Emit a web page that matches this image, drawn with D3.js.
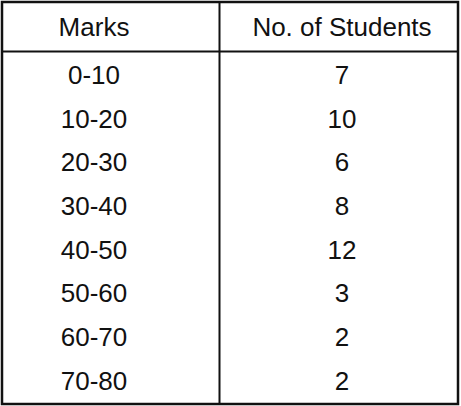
<!DOCTYPE html>
<html><head><meta charset="utf-8">
<script src="https://cdn.jsdelivr.net/npm/d3@7"></script>
<style>body{margin:0;background:#fff}</style>
</head><body>
<div id="chart"></div>
<script>
const headers = ['Marks', 'No. of Students'];
const marks = ['0-10', '10-20', '20-30', '30-40', '40-50', '50-60', '60-70', '70-80'];
const students = [7, 10, 6, 8, 12, 3, 2, 2];

const w = 461;
const h = 406;
const svg = d3.select('#chart').append('svg').attr('width', w).attr('height', h);

const scaleY = d3.scaleLinear().domain([0, 7]).range([75, 380.5]);
const colX = [94, 342];

// borders
svg.append('rect').attr('x', 2).attr('y', 2).attr('width', 456).attr('height', 402)
  .attr('fill', 'none').attr('stroke', '#111').attr('stroke-width', 2.5);
svg.append('line').attr('x1', 2).attr('x2', 458).attr('y1', 51.5).attr('y2', 51.5)
  .attr('stroke', '#111').attr('stroke-width', 2);
svg.append('line').attr('x1', 219.5).attr('x2', 219.5).attr('y1', 2).attr('y2', 404)
  .attr('stroke', '#111').attr('stroke-width', 2);

const font = 'Liberation Sans, Arial, sans-serif';
const fs = 26;
svg.selectAll('.hdr').data(headers).enter().append('text')
  .attr('x', (d, i) => colX[i]).attr('y', 27).attr('dy', '0.35em')
  .attr('text-anchor', 'middle').attr('font-family', font).attr('font-size', fs)
  .attr('fill', '#111').text((d) => d);

svg.selectAll('.mk').data(marks).enter().append('text')
  .attr('x', colX[0]).attr('y', (d, i) => scaleY(i)).attr('dy', '0.35em')
  .attr('text-anchor', 'middle').attr('font-family', font).attr('font-size', fs)
  .attr('fill', '#111').text((d) => d);

svg.selectAll('.st').data(students).enter().append('text')
  .attr('x', colX[1]).attr('y', (d, i) => scaleY(i)).attr('dy', '0.35em')
  .attr('text-anchor', 'middle').attr('font-family', font).attr('font-size', fs)
  .attr('fill', '#111').text((d) => d);
</script>
</body></html>
